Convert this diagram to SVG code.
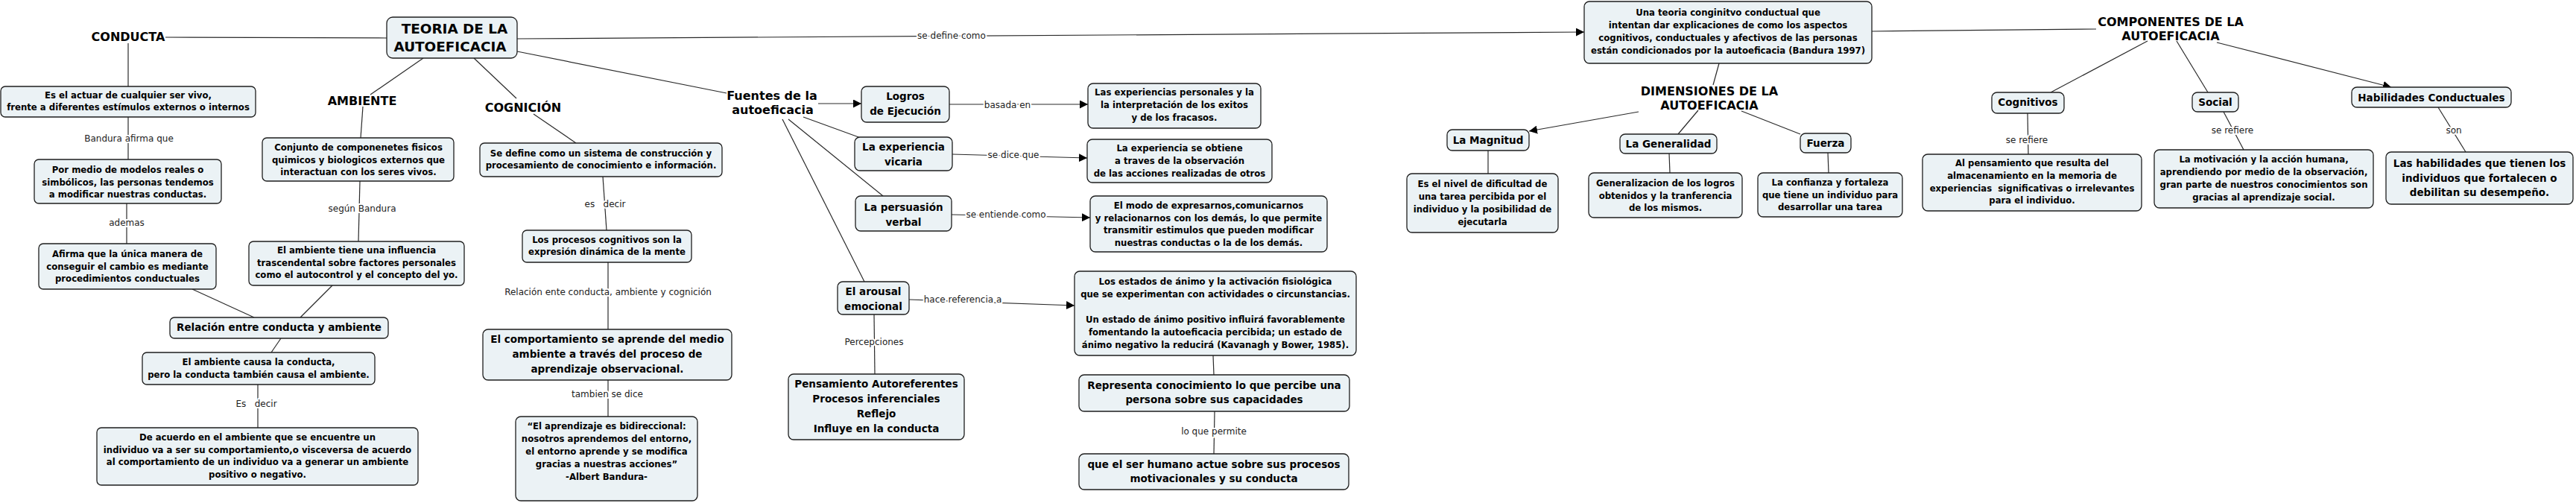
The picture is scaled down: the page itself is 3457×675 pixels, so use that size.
<svg xmlns="http://www.w3.org/2000/svg" width="3457" height="675" viewBox="0 0 3457 675">
<style>
.b{fill:#ebf2f5;stroke:#1e1e1e;stroke-width:1.3}
text{font-family:"DejaVu Sans",Verdana,sans-serif;fill:#000;text-anchor:middle}
.t{font-weight:bold;font-size:11.7px}
.m{font-weight:bold;font-size:13.5px}
.h{font-weight:bold;font-size:16px}
.x{font-weight:bold;font-size:18.4px}
.l{font-size:12px;fill:#222;stroke:#fff;stroke-width:4px;paint-order:stroke;stroke-linejoin:round}
.c line{stroke:#2a2a2a;stroke-width:1.2}
.a{marker-end:url(#arr)}
</style>
<defs>
<marker id="arr" viewBox="0 0 10 10" markerWidth="11" markerHeight="11" markerUnits="userSpaceOnUse" refX="10" refY="5" orient="auto">
<path d="M0,0 L10,5 L0,10 z" fill="#000"/>
</marker>
</defs>
<rect width="3457" height="675" fill="#fff"/>

<g id="connectors" class="c">
<line x1="519" y1="51" x2="222" y2="50"/>
<line x1="172" y1="58" x2="172" y2="116"/>
<line x1="172" y1="157" x2="172" y2="214"/>
<line x1="170" y1="273" x2="170" y2="327"/>
<line x1="568" y1="78" x2="497" y2="127"/>
<line x1="487" y1="143" x2="484" y2="185"/>
<line x1="483" y1="243" x2="481" y2="324"/>
<line x1="258" y1="388" x2="341" y2="426"/>
<line x1="446" y1="383" x2="403" y2="426"/>
<line x1="377" y1="454" x2="364" y2="473"/>
<line x1="346" y1="516" x2="346" y2="574"/>
<line x1="636" y1="78" x2="693" y2="132"/>
<line x1="716" y1="153" x2="773" y2="192"/>
<line x1="809" y1="237" x2="814" y2="309"/>
<line x1="816" y1="352" x2="816" y2="442"/>
<line x1="816" y1="510" x2="816" y2="559"/>
<line x1="694" y1="69" x2="975" y2="125"/>
<line class="a" x1="1098" y1="139" x2="1156" y2="139"/>
<line x1="1078" y1="157" x2="1155" y2="185"/>
<line x1="1058" y1="160" x2="1185" y2="263"/>
<line x1="1050" y1="160" x2="1160" y2="378"/>
<line class="a" x1="1274" y1="140" x2="1460" y2="140"/>
<line class="a" x1="1278" y1="207" x2="1459" y2="212"/>
<line class="a" x1="1277" y1="288" x2="1463" y2="292"/>
<line class="a" x1="1220" y1="402" x2="1442" y2="410"/>
<line x1="1173" y1="422" x2="1174" y2="502"/>
<line x1="1628" y1="477" x2="1629" y2="503"/>
<line x1="1630" y1="552" x2="1629" y2="609"/>
<line class="a" x1="694" y1="52" x2="2126" y2="43"/>
<line x1="2512" y1="42" x2="2813" y2="39"/>
<line x1="2307" y1="85" x2="2299" y2="114"/>
<line class="a" x1="2199" y1="150" x2="2052" y2="176"/>
<line x1="2279" y1="148" x2="2252" y2="180"/>
<line x1="2337" y1="149" x2="2416" y2="180"/>
<line x1="1997" y1="202" x2="1997" y2="233"/>
<line x1="2240" y1="206" x2="2241" y2="232"/>
<line x1="2453" y1="205" x2="2454" y2="232"/>
<line x1="2882" y1="55" x2="2752" y2="124"/>
<line x1="2721" y1="152" x2="2722" y2="207"/>
<line x1="2921" y1="55" x2="2963" y2="124"/>
<line x1="2984" y1="150" x2="3011" y2="201"/>
<line class="a" x1="2975" y1="57" x2="3209" y2="117"/>
<line x1="3272" y1="144" x2="3309" y2="204"/>
<text class="l" x="173" y="190">Bandura afirma que</text>
<text class="l" x="170" y="303">ademas</text>
<text class="l" x="486" y="284">según Bandura</text>
<text class="l" x="344" y="546" xml:space="preserve">Es   decir</text>
<text class="l" x="812" y="278" xml:space="preserve">es   decir</text>
<text class="l" x="816" y="396">Relación ente conducta, ambiente y cognición</text>
<text class="l" x="815" y="533">tambien se dice</text>
<text class="l" x="1352" y="145">basada en</text>
<text class="l" x="1360" y="212">se dice que</text>
<text class="l" x="1350" y="292">se entiende como</text>
<text class="l" x="1292" y="406">hace referencia a</text>
<text class="l" x="1173" y="463">Percepciones</text>
<text class="l" x="1629" y="583">lo que permite</text>
<text class="l" x="1277" y="52">se define como</text>
<text class="l" x="2720" y="192">se refiere</text>
<text class="l" x="2996" y="179">se refiere</text>
<text class="l" x="3293" y="179">son</text>
</g>

<g id="n_teoria"><rect class="b" x="519" y="23" width="175" height="55" rx="8"/>
<text class="x" x="610" y="45.3">TEORIA DE LA</text><text class="x" x="604" y="69.3">AUTOEFICACIA</text></g>

<g id="n_conducta"><text class="h" x="172" y="54.5">CONDUCTA</text></g>
<g id="n_actuar"><rect class="b" x="1" y="116" width="342" height="41" rx="6"/>
<text class="t" x="172" y="132">Es el actuar de cualquier ser vivo,</text>
<text class="t" x="172" y="148">frente a diferentes estímulos externos o internos</text></g>
<g id="n_modelos"><rect class="b" x="46" y="214" width="251" height="59" rx="6"/>
<text class="t" x="171.5" y="232">Por medio de modelos reales o</text>
<text class="t" x="171.5" y="248.5">simbólicos, las personas tendemos</text>
<text class="t" x="171.5" y="265">a modificar nuestras conductas.</text></g>
<g id="n_afirma"><rect class="b" x="52" y="327" width="238" height="61" rx="6"/>
<text class="t" x="171" y="345">Afirma que la única manera de</text>
<text class="t" x="171" y="361.5">conseguir el cambio es mediante</text>
<text class="t" x="171" y="378">procedimientos conductuales</text></g>

<g id="n_ambiente"><text class="h" x="486" y="140.5">AMBIENTE</text></g>
<g id="n_conjunto"><rect class="b" x="352" y="185" width="257" height="58" rx="6"/>
<text class="t" x="481" y="202">Conjunto de componenetes fisicos</text>
<text class="t" x="481" y="218.5">quimicos y biologicos externos que</text>
<text class="t" x="481" y="235">interactuan con los seres vivos.</text></g>
<g id="n_influencia"><rect class="b" x="334" y="324" width="289" height="59" rx="6"/>
<text class="t" x="478.5" y="340">El ambiente tiene una influencia</text>
<text class="t" x="478.5" y="356.5">trascendental sobre factores personales</text>
<text class="t" x="478.5" y="373">como el autocontrol y el concepto del yo.</text></g>
<g id="n_relacion"><rect class="b" x="228" y="426" width="293" height="28" rx="6"/>
<text class="m" x="374.5" y="444">Relación entre conducta y ambiente</text></g>
<g id="n_causa"><rect class="b" x="191" y="473" width="312" height="43" rx="6"/>
<text class="t" x="347" y="490">El ambiente causa la conducta,</text>
<text class="t" x="347" y="507">pero la conducta también causa el ambiente.</text></g>
<g id="n_acuerdo"><rect class="b" x="130" y="574" width="431" height="77" rx="6"/>
<text class="t" x="345.5" y="591">De acuerdo en el ambiente que se encuentre un</text>
<text class="t" x="345.5" y="607.5">individuo va a ser su comportamiento,o visceversa de acuerdo</text>
<text class="t" x="345.5" y="624">al comportamiento de un individuo va a generar un ambiente</text>
<text class="t" x="345.5" y="641">positivo o negativo.</text></g>

<g id="n_cognicion"><text class="h" x="702" y="149.5">COGNICIÓN</text></g>
<g id="n_define"><rect class="b" x="644" y="192" width="325" height="45" rx="6"/>
<text class="t" x="806.5" y="210">Se define como un sistema de construcción y</text>
<text class="t" x="806.5" y="226">procesamiento de conocimiento e información.</text></g>
<g id="n_procesos"><rect class="b" x="701" y="309" width="227" height="43" rx="6"/>
<text class="t" x="814.5" y="326">Los procesos cognitivos son la</text>
<text class="t" x="814.5" y="342">expresión dinámica de la mente</text></g>
<g id="n_comportamiento"><rect class="b" x="648" y="442" width="334" height="68" rx="7"/>
<text class="m" x="815" y="459.5">El comportamiento se aprende del medio</text>
<text class="m" x="815" y="479.5">ambiente a través del proceso de</text>
<text class="m" x="815" y="499.5">aprendizaje observacional.</text></g>
<g id="n_quote"><rect class="b" x="692" y="559" width="244" height="113" rx="7"/>
<text class="t" x="814" y="576">“El aprendizaje es bidireccional:</text>
<text class="t" x="814" y="593">nosotros aprendemos del entorno,</text>
<text class="t" x="814" y="610">el entorno aprende y se modifica</text>
<text class="t" x="814" y="627">gracias a nuestras acciones”</text>
<text class="t" x="814" y="644">-Albert Bandura-</text></g>

<g id="n_fuentes"><text class="h" x="1036" y="133.5">Fuentes de la</text><text class="h" x="1037" y="152.5">autoeficacia</text></g>
<g id="n_logros"><rect class="b" x="1156" y="116" width="118" height="48" rx="7"/>
<text class="m" x="1215" y="133.5">Logros</text><text class="m" x="1215" y="153.5">de Ejecución</text></g>
<g id="n_exp_pers"><rect class="b" x="1460" y="112" width="232" height="60" rx="7"/>
<text class="t" x="1576" y="128">Las experiencias personales y la</text>
<text class="t" x="1576" y="145">la interpretación de los exitos</text>
<text class="t" x="1576" y="162">y de los fracasos.</text></g>
<g id="n_vicaria"><rect class="b" x="1147" y="184" width="131" height="45" rx="7"/>
<text class="m" x="1212.5" y="201.5">La experiencia</text><text class="m" x="1212.5" y="221.5">vicaria</text></g>
<g id="n_obtiene"><rect class="b" x="1459" y="187" width="248" height="58" rx="7"/>
<text class="t" x="1583" y="203">La experiencia se obtiene</text>
<text class="t" x="1583" y="220">a traves de la observación</text>
<text class="t" x="1583" y="237">de las acciones realizadas de otros</text></g>
<g id="n_persuasion"><rect class="b" x="1148" y="263" width="129" height="47" rx="7"/>
<text class="m" x="1212.5" y="282.5">La persuasión</text><text class="m" x="1212.5" y="302.5">verbal</text></g>
<g id="n_modo"><rect class="b" x="1463" y="263" width="318" height="75" rx="7"/>
<text class="t" x="1622" y="280">El modo de expresarnos,comunicarnos</text>
<text class="t" x="1622" y="296.5">y relacionarnos con los demás, lo que permite</text>
<text class="t" x="1622" y="313">transmitir estimulos que pueden modificar</text>
<text class="t" x="1622" y="330">nuestras conductas o la de los demás.</text></g>
<g id="n_arousal"><rect class="b" x="1124" y="378" width="96" height="44" rx="7"/>
<text class="m" x="1172" y="395.5">El arousal</text><text class="m" x="1172" y="415.5">emocional</text></g>
<g id="n_estados"><rect class="b" x="1442" y="364" width="378" height="113" rx="7"/>
<text class="t" x="1631" y="382">Los estados de ánimo y la activación fisiológica</text>
<text class="t" x="1631" y="399">que se experimentan con actividades o circunstancias.</text>
<text class="t" x="1631" y="433">Un estado de ánimo positivo influirá favorablemente</text>
<text class="t" x="1631" y="450">fomentando la autoeficacia percibida; un estado de</text>
<text class="t" x="1631" y="467">ánimo negativo la reducirá (Kavanagh y Bower, 1985).</text></g>
<g id="n_pensamiento"><rect class="b" x="1058" y="502" width="236" height="88" rx="7"/>
<text class="m" x="1176" y="519.5">Pensamiento Autoreferentes</text>
<text class="m" x="1176" y="539.5">Procesos inferenciales</text>
<text class="m" x="1176" y="559.5">Reflejo</text>
<text class="m" x="1176" y="579.5">Influye en la conducta</text></g>
<g id="n_representa"><rect class="b" x="1448" y="503" width="363" height="49" rx="7"/>
<text class="m" x="1629.5" y="521.5">Representa conocimiento lo que percibe una</text>
<text class="m" x="1629.5" y="540.5">persona sobre sus capacidades</text></g>
<g id="n_actue"><rect class="b" x="1448" y="609" width="362" height="48" rx="7"/>
<text class="m" x="1629" y="627.5">que el ser humano actue sobre sus procesos</text>
<text class="m" x="1629" y="646.5">motivacionales y su conducta</text></g>

<g id="n_unateoria"><rect class="b" x="2126" y="2" width="386" height="83" rx="7"/>
<text class="t" x="2319" y="21">Una teoria conginitvo conductual que</text>
<text class="t" x="2319" y="38">intentan dar explicaciones de como los aspectos</text>
<text class="t" x="2319" y="55">cognitivos, conductuales y afectivos de las personas</text>
<text class="t" x="2319" y="72">están condicionados por la autoeficacia (Bandura 1997)</text></g>

<g id="n_dimensiones"><text class="h" x="2294" y="127.5">DIMENSIONES DE LA</text><text class="h" x="2294" y="146.5">AUTOEFICACIA</text></g>
<g id="n_magnitud"><rect class="b" x="1942" y="174" width="110" height="28" rx="7"/>
<text class="m" x="1997" y="192.5">La Magnitud</text></g>
<g id="n_nivel"><rect class="b" x="1888" y="233" width="203" height="79" rx="7"/>
<text class="t" x="1989.5" y="251">Es el nivel de dificultad de</text>
<text class="t" x="1989.5" y="268">una tarea percibida por el</text>
<text class="t" x="1989.5" y="285">individuo y la posibilidad de</text>
<text class="t" x="1989.5" y="302">ejecutarla</text></g>
<g id="n_generalidad"><rect class="b" x="2174" y="180" width="130" height="26" rx="7"/>
<text class="m" x="2239" y="197.5">La Generalidad</text></g>
<g id="n_generalizacion"><rect class="b" x="2132" y="232" width="206" height="60" rx="7"/>
<text class="t" x="2235" y="250">Generalizacion de los logros</text>
<text class="t" x="2235" y="267">obtenidos y la tranferencia</text>
<text class="t" x="2235" y="283">de los mismos.</text></g>
<g id="n_fuerza"><rect class="b" x="2416" y="179" width="68" height="26" rx="7"/>
<text class="m" x="2450" y="196.5">Fuerza</text></g>
<g id="n_confianza"><rect class="b" x="2359" y="232" width="194" height="59" rx="7"/>
<text class="t" x="2456" y="249">La confianza y fortaleza</text>
<text class="t" x="2456" y="266">que tiene un individuo para</text>
<text class="t" x="2456" y="282">desarrollar una tarea</text></g>

<g id="n_componentes"><text class="h" x="2913" y="34.5">COMPONENTES DE LA</text><text class="h" x="2913" y="53.5">AUTOEFICACIA</text></g>
<g id="n_cognitivos"><rect class="b" x="2673" y="124" width="97" height="28" rx="7"/>
<text class="m" x="2721.5" y="141.5">Cognitivos</text></g>
<g id="n_alpensamiento"><rect class="b" x="2580" y="207" width="294" height="76" rx="7"/>
<text class="t" x="2727" y="223">Al pensamiento que resulta del</text>
<text class="t" x="2727" y="240">almacenamiento en la memoria de</text>
<text class="t" x="2727" y="256.5" xml:space="preserve">experiencias  significativas o irrelevantes</text>
<text class="t" x="2727" y="273">para el individuo.</text></g>
<g id="n_social"><rect class="b" x="2942" y="124" width="62" height="26" rx="7"/>
<text class="m" x="2973" y="141.5">Social</text></g>
<g id="n_motivacion"><rect class="b" x="2891" y="201" width="294" height="78" rx="7"/>
<text class="t" x="3038" y="218">La motivación y la acción humana,</text>
<text class="t" x="3038" y="235">aprendiendo por medio de la observación,</text>
<text class="t" x="3038" y="252">gran parte de nuestros conocimientos son</text>
<text class="t" x="3038" y="269">gracias al aprendizaje social.</text></g>
<g id="n_habilidades"><rect class="b" x="3156" y="117" width="214" height="27" rx="7"/>
<text class="m" x="3263" y="136">Habilidades Conductuales</text></g>
<g id="n_lashabilidades"><rect class="b" x="3202" y="204" width="251" height="70" rx="7"/>
<text class="m" x="3327.5" y="223.5">Las habilidades que tienen los</text>
<text class="m" x="3327.5" y="243.5">individuos que fortalecen o</text>
<text class="m" x="3327.5" y="262.5">debilitan su desempeño.</text></g>
</svg>
